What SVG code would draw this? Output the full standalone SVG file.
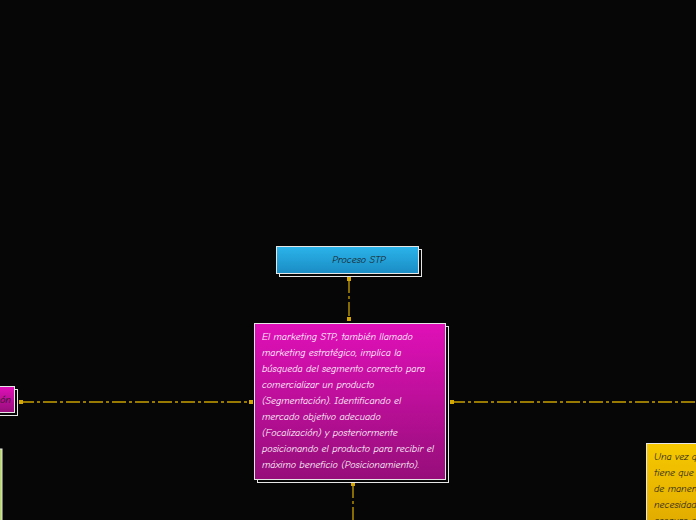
<svg xmlns="http://www.w3.org/2000/svg" width="696" height="520" viewBox="0 0 696 520">
<defs>
<linearGradient id="gb" x1="0" y1="0" x2="0" y2="1"><stop offset="0" stop-color="#2bb4ea"/><stop offset="1" stop-color="#1a8cc4"/></linearGradient>
<linearGradient id="gm" x1="0" y1="0" x2="0" y2="1"><stop offset="0" stop-color="#e010b8"/><stop offset="1" stop-color="#960e7a"/></linearGradient>
<linearGradient id="gy" x1="0" y1="0" x2="0" y2="1"><stop offset="0" stop-color="#f5c800"/><stop offset="1" stop-color="#e0a800"/></linearGradient>
</defs>
<style>
.t{font-family:"Comic Neue","Liberation Sans",sans-serif;font-style:italic;font-size:10px}
.c{stroke:#c9a000;stroke-width:1.3;fill:none;stroke-dasharray:14,3,3,3}
.sh{fill:none;stroke:#e6e6e6;stroke-width:1}
.d{fill:#d4a800}
</style>
<rect width="696" height="520" fill="#060606"/>
<g id="connectors">
<path class="c" d="M349,279 V320"/>
<path class="c" d="M20,402 H251"/>
<path class="c" d="M451,402 H696"/>
<path class="c" d="M353,484 V520"/>
<rect class="d" x="347" y="277" width="4" height="4"/>
<rect class="d" x="347" y="317" width="4" height="4"/>
<rect class="d" x="19" y="400" width="4" height="4"/>
<rect class="d" x="249" y="400" width="4" height="4"/>
<rect class="d" x="450" y="400" width="4" height="4"/>
<rect class="d" x="351" y="482" width="4" height="4"/>
</g>
<g id="proceso">
<rect class="sh" x="279.5" y="249.5" width="142" height="27" fill="#0a0a0a"/>
<rect x="276.5" y="246.5" width="142" height="27" fill="url(#gb)" stroke="#e6e6e6"/>
<text class="t" x="359" y="263" text-anchor="middle" fill="#1a1a1a">Proceso STP</text>
</g>
<g id="central">
<rect class="sh" x="257.5" y="326.5" width="191" height="156" fill="#0a0a0a"/>
<rect x="254.5" y="323.5" width="191" height="156" fill="url(#gm)" stroke="#e6e6e6"/>
<g class="t" fill="#ffffff">
<text x="262" y="340">El marketing STP, también llamado</text>
<text x="262" y="356">marketing estratégico, implica la</text>
<text x="262" y="372">búsqueda del segmento correcto para</text>
<text x="262" y="388">comercializar un producto</text>
<text x="262" y="404">(Segmentación). Identificando el</text>
<text x="262" y="420">mercado objetivo adecuado</text>
<text x="262" y="436">(Focalización) y posteriormente</text>
<text x="262" y="452">posicionando el producto para recibir el</text>
<text x="262" y="468">máximo beneficio (Posicionamiento).</text>
</g>
</g>
<g id="izq">
<rect class="sh" x="-20.5" y="389.5" width="38" height="26"/>
<rect x="-23.5" y="386.5" width="38" height="26" fill="url(#gm)" stroke="#e6e6e6"/>
<text class="t" x="0" y="403" fill="#1a1a1a">ón</text>
</g>
<g id="verde">
<rect x="-20" y="449" width="22" height="80" fill="#b9d86a" stroke="#e6e6e6"/>
</g>
<g id="amarillo">
<rect x="646.5" y="443.5" width="80" height="90" fill="url(#gy)" stroke="#e6e6e6"/>
<g class="t" fill="#1a1a1a">
<text x="654" y="460">Una vez que</text>
<text x="654" y="476">tiene que</text>
<text x="654" y="492">de manera</text>
<text x="654" y="508">necesidades</text>
<text x="654" y="524">asegura el</text>
</g>
</g>
</svg>
